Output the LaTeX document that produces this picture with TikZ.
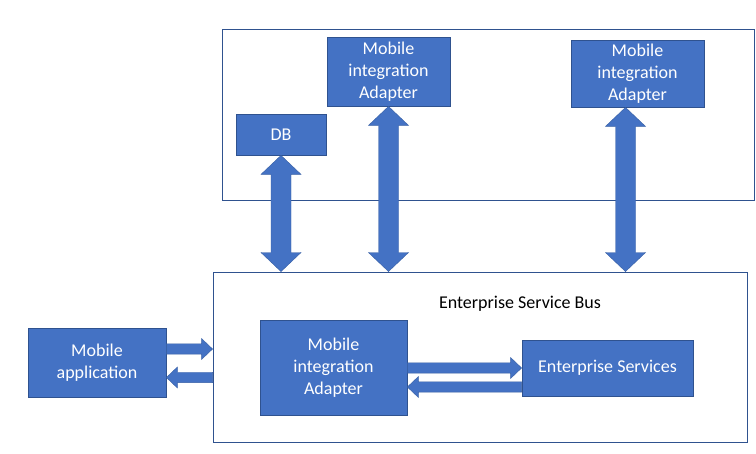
\documentclass[tikz,border=0pt]{standalone}
\usepackage{fontspec}
\setmainfont{Carlito}
\usepackage{tikz}
\usetikzlibrary{calc}
\definecolor{boxblue}{HTML}{4472C4}
\definecolor{edgeblue}{HTML}{2F528F}
\tikzset{
  frameBox/.style={draw=edgeblue, line width=0.9pt, fill=white},
  unitBox/.style={draw=edgeblue, line width=0.8pt, fill=boxblue, text=white, align=center,
    font=\fontsize{18}{22}\selectfont, inner sep=0pt},
  flowArrow/.style={fill=boxblue, draw=edgeblue!60!boxblue, line width=0.4pt, line join=miter},
  busLabel/.style={font=\fontsize{18}{22}\selectfont}
}
% vertical block arrow with two heads, #1 upper tip, #2 lower tip
\newcommand{\vdarrow}[2]{%
  \filldraw[flowArrow] let \p1=(#1), \p2=(#2) in
    (\x1,\y1) -- (\x1+20pt,\y1-19pt) -- (\x1+10pt,\y1-19pt) -- (\x1+10pt,\y2+19pt)
    -- (\x1+20pt,\y2+19pt) -- (\x1,\y2) -- (\x1-20pt,\y2+19pt) -- (\x1-10pt,\y2+19pt)
    -- (\x1-10pt,\y1-19pt) -- (\x1-20pt,\y1-19pt) -- cycle;}
% horizontal block arrow, #1 tail, #2 tip
\newcommand{\harrow}[2]{%
  \filldraw[flowArrow] let \p1=(#1), \p2=(#2), \n2={\x2-11*sign(\x2-\x1)} in
    (\x1,\y1+5.2pt) -- (\n2,\y1+5.2pt) -- (\n2,\y1+10.5pt) -- (\x2,\y1)
    -- (\n2,\y1-10.5pt) -- (\n2,\y1-5.2pt) -- (\x1,\y1-5.2pt) -- cycle;}

\begin{document}
\begin{tikzpicture}[x=1pt, y=-1pt]
  \useasboundingbox (0,0) rectangle (756,454);

  % containers
  \node[frameBox, minimum width=532, minimum height=171] (core) at (488,114.5) {};
  \node[frameBox, minimum width=534, minimum height=170] (bus) at (480,357) {};
  \node[busLabel] (busName) at (520,304) {Enterprise Service Bus};

  % upper blocks
  \node[unitBox, minimum width=90, minimum height=41] (db) at (281,134.5) {DB};
  \node[unitBox, minimum width=123, minimum height=69] (adapterA) at (388.5,71.5) {Mobile\\integration\\Adapter};
  \node[unitBox, minimum width=133, minimum height=67] (adapterB) at (637.5,73.5) {Mobile\\integration\\Adapter};

  % lower blocks
  \node[unitBox, minimum width=138, minimum height=69] (app) at (97,362.5) {Mobile\\application};
  \node[unitBox, minimum width=147, minimum height=95] (adapterC) at (333.5,367.5) {Mobile\\integration\\Adapter};
  \node[unitBox, minimum width=171, minimum height=56] (services) at (607.5,368) {Enterprise Services};

  % links to the bus
  \coordinate (bTap) at ($(adapterB.south)+(-12,0)$);
  \vdarrow{db.south}{db.south |- bus.north}
  \vdarrow{adapterA.south}{adapterA.south |- bus.north}
  \vdarrow{bTap}{bTap |- bus.north}

  \coordinate (appOut) at ($(app.east)+(0,-13.5)$);
  \coordinate (appIn) at ($(app.east)+(0,15)$);
  \harrow{appOut}{appOut -| bus.west}
  \harrow{appIn -| bus.west}{appIn}

  \coordinate (svcOut) at ($(adapterC.east)+(0,0.5)$);
  \coordinate (svcIn) at ($(adapterC.east)+(0,19.5)$);
  \harrow{svcOut}{svcOut -| services.west}
  \harrow{svcIn -| services.west}{svcIn}
\end{tikzpicture}
\end{document}
